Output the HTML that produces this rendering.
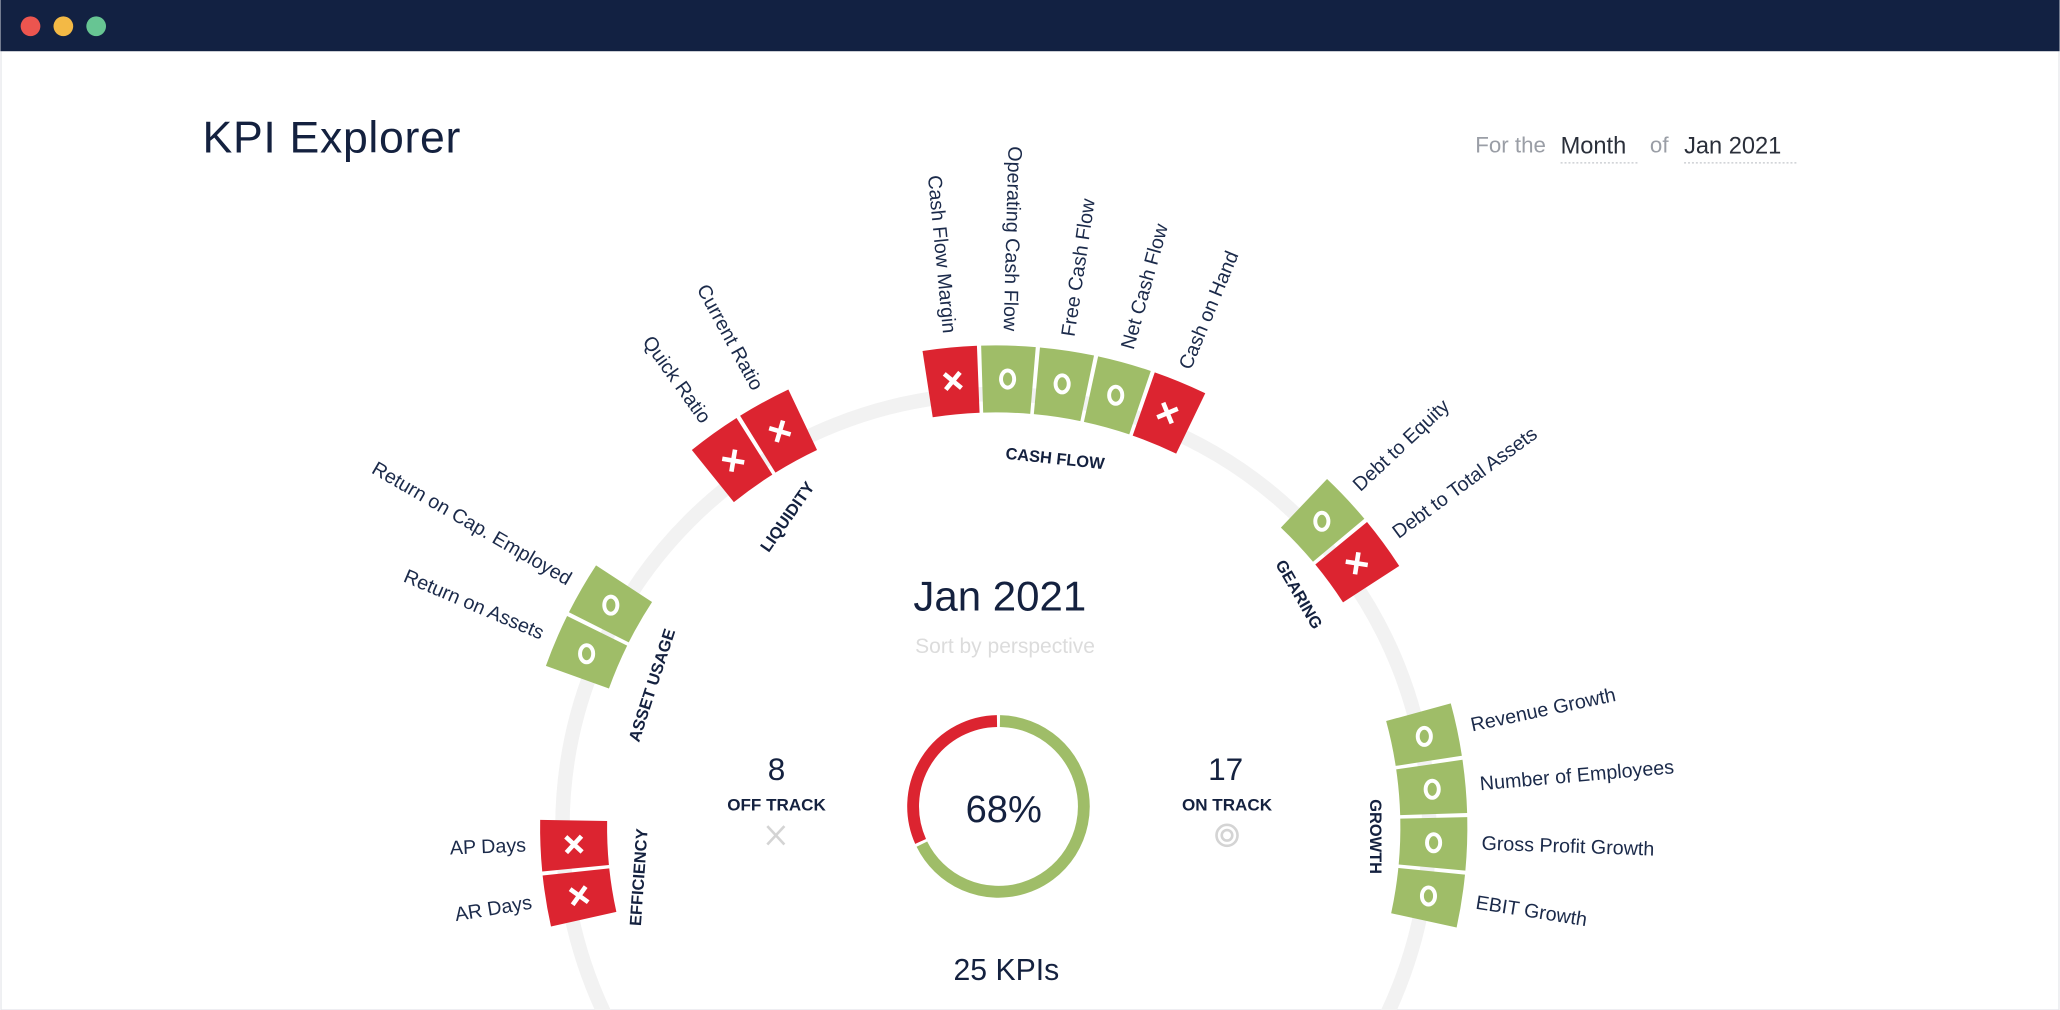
<!DOCTYPE html>
<html><head><meta charset="utf-8">
<style>
html,body{margin:0;padding:0;background:#fff;width:2060px;height:1010px;overflow:hidden}
svg{display:block;overflow:hidden}
text{font-family:"Liberation Sans",sans-serif}
</style></head>
<body>
<svg id="chart" width="2060" height="1010" viewBox="0 0 1568 769" xmlns="http://www.w3.org/2000/svg">
  <defs><clipPath id="frame"><rect x="0" y="0" width="1568" height="769"/></clipPath></defs>
  <g clip-path="url(#frame)">
  <rect x="0" y="0" width="1568" height="769" fill="#fff"/>
  <rect x="0.5" y="0" width="1567" height="769" fill="none" stroke="#e4e6ea" stroke-width="1"/>
  <g>
    <rect x="0" y="0" width="1568" height="39" fill="#122142"/>
    <circle cx="23" cy="20" r="7.5" fill="#ec554f"/>
    <circle cx="48" cy="20" r="7.5" fill="#f3b945"/>
    <circle cx="73" cy="20" r="7.5" fill="#67c593"/>
  </g>
  <text x="154" y="116" font-size="34" fill="#14213f" letter-spacing="0.5">KPI Explorer</text>
  <g>
    <text x="1123" y="116" font-size="17" fill="#9a9ea6">For the</text>
    <text x="1188" y="117" font-size="18" fill="#2a2f3a">Month</text>
    <line x1="1188" y1="124" x2="1248" y2="124" stroke="#c4c7cc" stroke-dasharray="1.5 1.5"/>
    <text x="1256" y="116" font-size="17" fill="#9a9ea6">of</text>
    <text x="1282" y="117" font-size="18" fill="#2a2f3a">Jan 2021</text>
    <line x1="1282" y1="124" x2="1368" y2="124" stroke="#c4c7cc" stroke-dasharray="1.5 1.5"/>
  </g>
  <circle cx="758" cy="630" r="330" fill="none" stroke="#f2f2f2" stroke-width="11"/>
  <g id="tiles"></g>
  <g id="cats"></g>
  <text x="761" y="465" font-size="32" text-anchor="middle" fill="#14213f">Jan 2021</text>
  <text x="765" y="497" font-size="16" text-anchor="middle" fill="#dcdcdc">Sort by perspective</text>
  <g id="donut"></g>
  <text id="pct" x="764" y="626" font-size="29" text-anchor="middle" fill="#14213f"></text>
  <text id="offN" x="591" y="594" font-size="24" text-anchor="middle" fill="#14213f"></text>
  <text x="591" y="617" font-size="13" font-weight="bold" text-anchor="middle" fill="#14213f">OFF TRACK</text>
  <g stroke="#d4d4d4" stroke-width="2" fill="none">
    <path d="M584 629 L597 643 M597 629 L584 643"/>
  </g>
  <text id="onN" x="933" y="594" font-size="24" text-anchor="middle" fill="#14213f"></text>
  <text x="934" y="617" font-size="13" font-weight="bold" text-anchor="middle" fill="#14213f">ON TRACK</text>
  <g stroke="#d4d4d4" stroke-width="2" fill="none">
    <circle cx="934" cy="636" r="8"/><circle cx="934" cy="636" r="4"/>
  </g>
  <text id="total" x="766" y="746" font-size="23" text-anchor="middle" fill="#14213f"></text>
  </g>
</svg>
<script>
// ---- data ----
const kpiNames = ["Cash Flow Margin","Operating Cash Flow","Free Cash Flow","Net Cash Flow","Cash on Hand",
  "Current Ratio","Quick Ratio",
  "Return on Cap. Employed","Return on Assets",
  "AP Days","AR Days",
  "Debt to Equity","Debt to Total Assets",
  "Revenue Growth","Number of Employees","Gross Profit Growth","EBIT Growth"];
const kpiGroups = ["cash-flow","cash-flow","cash-flow","cash-flow","cash-flow",
  "liquidity","liquidity","asset-usage","asset-usage","efficiency","efficiency",
  "gearing","gearing","growth","growth","growth","growth"];
const kpiStatus = [0,1,1,1,0, 0,0, 1,1, 0,0, 1,0, 1,1,1,1];
const totalKpis = 25;
const offTrackCount = 8;
const onTrackCount = 17;
const groupLabels = ["CASH FLOW","LIQUIDITY","ASSET USAGE","EFFICIENCY","GEARING","GROWTH"];
const groupKeys = ["cash-flow","liquidity","asset-usage","efficiency","gearing","growth"];

// ---- layout ----
const NS="http://www.w3.org/2000/svg";
const CX=758, CY=630, RI=318, RO=369, RL=380;
const groupStart={"cash-flow":-5.5,"liquidity":-28.6,"asset-usage":-60,"efficiency":-92.3,"gearing":46.8,"growth":78};
const groupDir={"cash-flow":1,"liquidity":-1,"asset-usage":-1,"efficiency":-1,"gearing":1,"growth":1};
const groupOff={"cash-flow":-2,"liquidity":0,"asset-usage":-5,"efficiency":-22,"gearing":-3,"growth":-10};
const STEP=7.0, HALF=3.25;
const catPos={"cash-flow":[803,350,6],"liquidity":[600,394,-55],"asset-usage":[497,522,-72],"efficiency":[487,668,-86],"gearing":[988,453,60],"growth":[1046,637,90]};
const RED="#dc2430", GREEN="#9fbd68";
function pt(a,r){const t=a*Math.PI/180;return [CX+r*Math.sin(t),CY-r*Math.cos(t)];}
function sector(a1,a2,ri,ro){const p1=pt(a1,ro),p2=pt(a2,ro),p3=pt(a2,ri),p4=pt(a1,ri);
  return `M${p1[0]},${p1[1]} A${ro},${ro} 0 0 1 ${p2[0]},${p2[1]} L${p3[0]},${p3[1]} A${ri},${ri} 0 0 0 ${p4[0]},${p4[1]} Z`;}
const tiles=document.getElementById('tiles');
const idx={};
kpiNames.forEach((name,i)=>{
  const g=kpiGroups[i]; idx[g]=(idx[g]||0);
  const a=groupStart[g]+groupDir[g]*STEP*idx[g]; idx[g]++;
  const off=groupOff[g];
  const on=kpiStatus[i]===1;
  const grp=document.createElementNS(NS,'g');
  
  
  const p=document.createElementNS(NS,'path');
  p.setAttribute('d',sector(a-HALF,a+HALF,RI+off,RO+off));
  p.setAttribute('fill',on?GREEN:RED);
  grp.appendChild(p);
  const c=pt(a,(RI+RO)/2+off);
  if(on){const o=document.createElementNS(NS,'ellipse');
    o.setAttribute('cx',c[0]);o.setAttribute('cy',c[1]);o.setAttribute('rx',5);o.setAttribute('ry',6.5);
    o.setAttribute('fill','none');o.setAttribute('stroke','#fff');o.setAttribute('stroke-width',3);grp.appendChild(o);}
  else{const x=document.createElementNS(NS,'path');
    x.setAttribute('d',`M${c[0]-6},${c[1]-6} L${c[0]+6},${c[1]+6} M${c[0]+6},${c[1]-6} L${c[0]-6},${c[1]+6}`);
    x.setAttribute('transform',`rotate(${a} ${c[0]} ${c[1]})`);
    x.setAttribute('stroke','#fff');x.setAttribute('stroke-width',3.5);grp.appendChild(x);}
  tiles.appendChild(grp);
  const lp=pt(a,RL+off);
  const t=document.createElementNS(NS,'text');
  
  
  const left=a<5;
  t.setAttribute('x',lp[0]);t.setAttribute('y',lp[1]);
  t.setAttribute('font-size','15');t.setAttribute('fill','#1b2a4a');
  t.setAttribute('dominant-baseline','middle');
  t.setAttribute('text-anchor',left?'end':'start');
  t.setAttribute('transform',`rotate(${left?a+90:a-90} ${lp[0]} ${lp[1]})`);
  t.textContent=name;
  tiles.appendChild(t);
});
const cats=document.getElementById('cats');
groupKeys.forEach((k,i)=>{
  const [x,y,r]=catPos[k];
  const t=document.createElementNS(NS,'text');
  
  
  t.setAttribute('x',x);t.setAttribute('y',y);t.setAttribute('font-size','12.5');t.setAttribute('font-weight','bold');
  t.setAttribute('fill','#14213f');t.setAttribute('text-anchor','middle');t.setAttribute('dominant-baseline','middle');
  t.setAttribute('transform',`rotate(${r} ${x} ${y})`);
  t.textContent=groupLabels[i];cats.appendChild(t);
});
// donut
const DX=760, DY=614, DR=65;
function arc(a1,a2,r){const t1=a1*Math.PI/180,t2=a2*Math.PI/180;
  const x1=DX+r*Math.sin(t1),y1=DY-r*Math.cos(t1),x2=DX+r*Math.sin(t2),y2=DY-r*Math.cos(t2);
  return `M${x1},${y1} A${r},${r} 0 ${Math.abs(a2-a1)>180?1:0} 1 ${x2},${y2}`;}
const offDeg=offTrackCount/totalKpis*360;
const donut=document.getElementById('donut');
const gArc=document.createElementNS(NS,'path');


gArc.setAttribute('d',arc(1,360-offDeg-1,DR));gArc.setAttribute('fill','none');gArc.setAttribute('stroke',GREEN);gArc.setAttribute('stroke-width',9);
donut.appendChild(gArc);
const rArc=document.createElementNS(NS,'path');


rArc.setAttribute('d',arc(360-offDeg+1,359,DR));rArc.setAttribute('fill','none');rArc.setAttribute('stroke',RED);rArc.setAttribute('stroke-width',9);
donut.appendChild(rArc);
document.getElementById('pct').textContent=Math.round(onTrackCount/totalKpis*100)+'%';
document.getElementById('offN').textContent=offTrackCount;
document.getElementById('onN').textContent=onTrackCount;
document.getElementById('total').textContent=totalKpis+' KPIs';
</script>
</body></html>
